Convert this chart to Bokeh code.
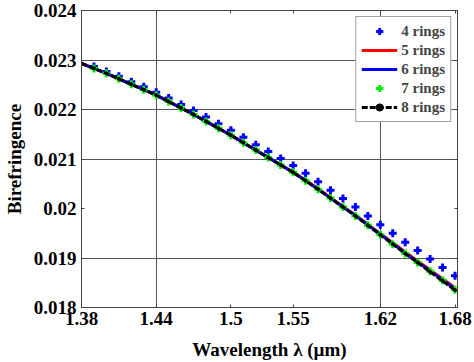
from bokeh.plotting import figure
from bokeh.models import FixedTicker, LinearAxis, CustomJSTickFormatter, Legend, Range1d
from bokeh.embed import file_html
from bokeh.resources import INLINE

wavelength = [1.38, 1.39, 1.40, 1.41, 1.42, 1.43, 1.44, 1.45, 1.46, 1.47, 1.48,
              1.49, 1.50, 1.51, 1.52, 1.53, 1.54, 1.55, 1.56, 1.57, 1.58, 1.59,
              1.60, 1.61, 1.62, 1.63, 1.64, 1.65, 1.66, 1.67, 1.68]

rings4 = [0.02296, 0.02287, 0.02277, 0.02267, 0.02256, 0.02246, 0.02235, 0.02223,
          0.02210, 0.02198, 0.02185, 0.02171, 0.02158, 0.02144, 0.02129, 0.02115,
          0.02101, 0.02087, 0.02071, 0.02054, 0.02037, 0.02020, 0.02003, 0.01985,
          0.01967, 0.01950, 0.01932, 0.01915, 0.01898, 0.01881, 0.01864]
rings5 = [0.02293, 0.02283, 0.02273, 0.02262, 0.02251, 0.02240, 0.02229, 0.02216,
          0.02203, 0.02190, 0.02176, 0.02162, 0.02148, 0.02133, 0.02118, 0.02103,
          0.02088, 0.02073, 0.02057, 0.02040, 0.02022, 0.02004, 0.01987, 0.01968,
          0.01949, 0.01931, 0.01912, 0.01894, 0.01876, 0.01858, 0.01840]
rings6 = [0.02293, 0.02283, 0.02273, 0.02262, 0.02251, 0.02240, 0.02229, 0.02216,
          0.02203, 0.02190, 0.02176, 0.02162, 0.02148, 0.02133, 0.02118, 0.02103,
          0.02088, 0.02073, 0.02056, 0.02039, 0.02021, 0.02003, 0.01986, 0.01967,
          0.01948, 0.01929, 0.01910, 0.01892, 0.01874, 0.01856, 0.01837]
rings7 = [0.02293, 0.02283, 0.02273, 0.02262, 0.02251, 0.02240, 0.02229, 0.02216,
          0.02203, 0.02190, 0.02176, 0.02162, 0.02148, 0.02133, 0.02118, 0.02103,
          0.02088, 0.02073, 0.02056, 0.02039, 0.02021, 0.02003, 0.01985, 0.01966,
          0.01947, 0.01928, 0.01909, 0.01891, 0.01873, 0.01855, 0.01836]
rings8 = [0.02293, 0.02283, 0.02273, 0.02262, 0.02251, 0.02240, 0.02229, 0.02216,
          0.02203, 0.02190, 0.02176, 0.02162, 0.02148, 0.02133, 0.02118, 0.02103,
          0.02088, 0.02073, 0.02056, 0.02039, 0.02021, 0.02003, 0.01985, 0.01966,
          0.01947, 0.01928, 0.01909, 0.01891, 0.01872, 0.01854, 0.01835]

x_ticks = [1.38, 1.44, 1.5, 1.55, 1.62, 1.68]
y_ticks = [0.018, 0.019, 0.020, 0.021, 0.022, 0.023, 0.024]
x_grid = [1.44, 1.62]
y_grid = [0.019, 0.021, 0.022, 0.023]

FONT = "Liberation Serif"

p = figure(width=474, height=362, output_backend="svg", toolbar_location=None,
           x_range=Range1d(1.38, 1.682), y_range=Range1d(0.018, 0.024),
           min_border_left=78, min_border_top=10, min_border_right=17, min_border_bottom=55)
p.background_fill_color = "white"
p.border_fill_color = "white"
p.outline_line_color = "#444444"
p.outline_line_width = 1

p.xaxis.ticker = FixedTicker(ticks=x_ticks)
p.yaxis.ticker = FixedTicker(ticks=y_ticks)
p.xgrid.ticker = FixedTicker(ticks=x_grid)
p.ygrid.ticker = FixedTicker(ticks=y_grid)
for g in (p.xgrid, p.ygrid):
    g.grid_line_color = "#555555"
    g.grid_line_width = 1
    g.grid_line_alpha = 1

p.xaxis.formatter = CustomJSTickFormatter(code="return tick.toFixed(2).replace(/0+$/,'').replace(/\\.$/,'');")
p.yaxis.formatter = CustomJSTickFormatter(code="return tick.toFixed(3).replace(/0+$/,'').replace(/\\.$/,'');")

p.xaxis.axis_label = "Wavelength λ (µm)"
p.yaxis.axis_label = "Birefringence"

for ax in (p.xaxis[0], p.yaxis[0]):
    ax.axis_line_color = "#444444"
    ax.major_tick_in = 3
    ax.major_tick_out = 0
    ax.minor_tick_line_color = None
    ax.major_tick_line_color = "#444444"
    ax.major_label_text_font = FONT
    ax.major_label_text_font_style = "bold"
    ax.major_label_text_font_size = "19px"
    ax.major_label_text_color = "black"
    ax.axis_label_text_font = FONT
    ax.axis_label_text_font_style = "bold"
    ax.axis_label_text_font_size = "19px"
    ax.axis_label_text_color = "black"
p.xaxis.major_label_standoff = 4
p.xaxis.axis_label_standoff = 11
p.yaxis.major_label_standoff = 5
p.yaxis.axis_label_standoff = 6

blank = CustomJSTickFormatter(code="return '';")
top = LinearAxis(ticker=FixedTicker(ticks=x_ticks), formatter=blank,
                 major_label_standoff=0,
                 major_tick_in=3, major_tick_out=0, minor_tick_line_color=None,
                 axis_line_color="#444444", major_tick_line_color="#444444")
right = LinearAxis(ticker=FixedTicker(ticks=y_ticks), formatter=blank,
                   major_label_standoff=0,
                   major_tick_in=3, major_tick_out=0, minor_tick_line_color=None,
                   axis_line_color="#444444", major_tick_line_color="#444444")
p.add_layout(top, "above")
p.add_layout(right, "right")

r4 = p.scatter(wavelength[1:], rings4[1:], marker="cross", size=8, line_width=3, color="#0000ff")
r5 = p.line(wavelength, rings5, line_width=3, color="#ff0000")
r6 = p.line(wavelength, rings6, line_width=3, color="#0000ff")
r7 = p.scatter(wavelength[1:], rings7[1:], marker="cross", size=8, line_width=3, color="#00ee00")
r8 = p.line(wavelength, rings8, line_width=3, color="black", line_dash="6 2")
r8m = p.scatter(wavelength, rings8, marker="circle", size=3, color="black")

legend = Legend(items=[("4 rings", [r4]), ("5 rings", [r5]), ("6 rings", [r6]),
                       ("7 rings", [r7]), ("8 rings", [r8, r8m])],
                location="top_right")
legend.label_text_font = FONT
legend.label_text_font_style = "bold"
legend.label_text_font_size = "15px"
legend.glyph_width = 36
legend.glyph_height = 18
legend.label_height = 18
legend.label_standoff = 4
legend.spacing = 1
legend.padding = 5
legend.margin = 6
legend.border_line_color = "#444444"
legend.border_line_width = 1
legend.background_fill_alpha = 1
p.add_layout(legend, "center")

open("out.html", "w").write(file_html(p, INLINE))
